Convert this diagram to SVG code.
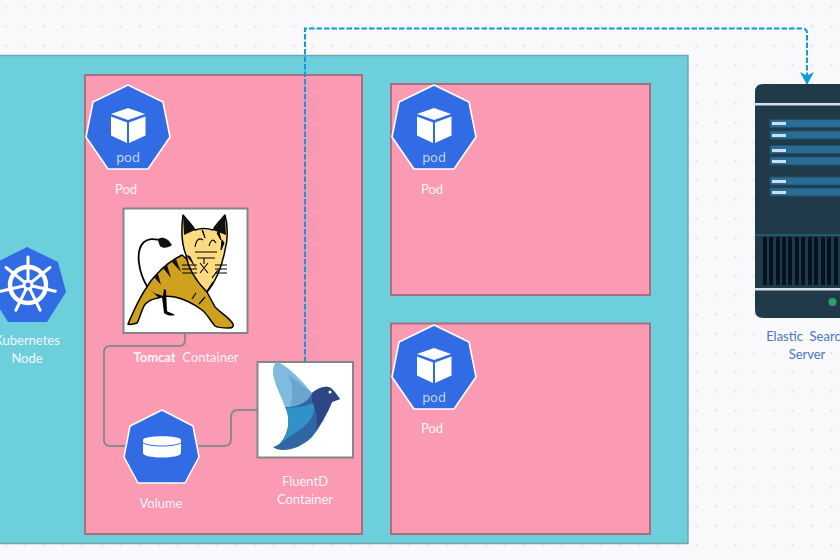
<svg xmlns="http://www.w3.org/2000/svg" width="840" height="560" viewBox="0 0 840 560">
<defs>
<pattern id="dots" x="-4" y="-2" width="19.2" height="19.2" patternUnits="userSpaceOnUse"><circle cx="9.6" cy="9.6" r="1.400" fill="#e6e8ec"/></pattern>
<marker id="arrow" viewBox="0 0 14 14" refX="13" refY="7" markerWidth="14" markerHeight="14" markerUnits="userSpaceOnUse" orient="auto"><path d="M0 0L13 7L0 14L3.500 7Z" fill="#0f9bd7"/></marker>
<polygon id="hepPod" points="128,85 163,102 170,137 148,169 108,169 86,137 93,102" fill="#326ce5" stroke="#fff" stroke-width="1.600" stroke-linejoin="round"/>
<g id="cube"><polygon points="128,108 145,114 128,120 111,114" fill="#fff"/><polygon points="111,116.500 127,122.500 127,143 111,135.500" fill="#fff"/><polygon points="129,122.500 145.500,116.500 145.500,135.500 129,143" fill="#fff"/></g>
</defs>
<style>
.t{font-family:Lato,"Liberation Sans",sans-serif;font-size:13px;fill:#fff;text-anchor:middle;white-space:pre;fill-opacity:.92}
.p{font-family:"Open Sans","Liberation Sans",sans-serif;font-size:13px;fill:#fff;fill-opacity:.75;text-anchor:middle}
.s{font-family:Lato,"Liberation Sans",sans-serif;font-size:13px;fill:#4a76c2;text-anchor:middle;white-space:pre}
.b{fill:#2a6d94;stroke:#1d4f6a;stroke-width:1}.w{fill:#cfdde6}.g{fill:#04141f}
.c{fill:none;stroke:#8a8a8a;stroke-width:2}
.box{fill:#fff;stroke:#868686;stroke-width:2}
.pk{fill:#fb9bb3;stroke:#a8707f;stroke-width:2}
</style>
<rect width="840" height="560" fill="#f9f9fc"/>
<rect width="840" height="560" fill="url(#dots)"/>
<rect id="k8s-node-area" x="-10" y="55.500" width="698" height="488" fill="#6dcfdc" stroke="#6ea6ac" stroke-width="1.500"/>
<rect id="pod-area-1" class="pk" x="85" y="75" width="277" height="459"/>
<rect id="pod-area-2" class="pk" x="391" y="84" width="259" height="211"/>
<rect id="pod-area-3" class="pk" x="391" y="323.500" width="259" height="210.500"/>

<g id="connectors">
<path class="c" d="M185 333V340Q185 346 179 346H110Q104 346 104 352V440Q104 446 110 446H126"/>
<path class="c" d="M198 446H224Q231 446 231 439V417Q231 410 238 410H258"/>
<path d="M305 362V28.500H802Q807 28.500 807 33V85" fill="none" stroke="#0f9bd7" stroke-width="2" stroke-dasharray="5.500 2"/>
<path d="M807 78V85" fill="none" stroke="none" marker-end="url(#arrow)"/>
</g>

<g id="pod-1"><use href="#hepPod"/><use href="#cube"/><text class="p" x="128" y="162">pod</text><text class="t" x="126" y="194">Pod</text></g>
<g id="pod-2"><g transform="translate(306 0)"><use href="#hepPod"/><use href="#cube"/><text class="p" x="128" y="162">pod</text></g><text class="t" x="432" y="194">Pod</text></g>
<g id="pod-3"><g transform="translate(306 240)"><use href="#hepPod"/><use href="#cube"/><text class="p" x="128" y="162">pod</text></g><text class="t" x="432" y="433">Pod</text></g>

<g id="kubernetes-node">
<polygon points="27,247 58,262 66,292 47,322 8,322 -11,292 -3,262" fill="#326ce5"/>
<g fill="none" stroke="#fff"><circle cx="28" cy="285" r="18" stroke-width="4.500"/><g stroke-width="3" stroke-linecap="round"><path d="M28 285L28 257M28 285L49.900 267.500M28 285L55.300 291.200M28 285L40.100 310.200M28 285L15.900 310.200M28 285L0.700 291.200M28 285L6.100 267.500"/></g></g>
<circle cx="28" cy="285" r="5.500" fill="#fff"/><circle cx="28" cy="285" r="2.500" fill="#326ce5"/>
<text class="t" x="27" y="345">Kubernetes</text><text class="t" x="27" y="363">Node</text>
</g>

<g id="tomcat-container">
<rect class="box" x="123.500" y="208.500" width="124" height="124.500"/>
<path d="M148 288C138 272 135 250 144 242C149 238 154 239 160 240" fill="none" stroke="#000" stroke-width="1.800"/>
<path d="M158 239C162 236 168 238 172 245C168 248 163 249 160 246C159 244 158 241 158 239Z" fill="#111"/>
<path d="M128 324C134 310 141 295 147 287C150 281 153 278 156 275C163 267 172 260 182 255L190 262L207 292L215 307C222 314 230 318 233 324C234 327 232 328 229 328C224 328 218 328 215 326C210 320 207 314 202 310C194 304 184 299 175 297C168 296 162 296 158 298C152 299 147 301 144 306C141 312 139 320 137 323C134 324 130 325 128 324Z" fill="#cfa11e" stroke="#000" stroke-width="1.500" stroke-linejoin="round"/>
<path d="M147 287L158 297L162 297L164 313C168 316 172 316 175 315C172 313 168 312 167 311L166 290L164 289L163 296L154 293Z" fill="#000"/>
<path d="M183 215C187 220 193 226 195 230C201 228 207 228 213 230C216 224 222 219 225 215C228 225 228 240 225 250C222 268 214 284 207 292C197 282 188 268 186 255C182 245 181 230 183 215Z" fill="#ffdb80" stroke="#000" stroke-width="1.500" stroke-linejoin="round"/>
<path d="M183 215L195 230L184 235ZM225 215L213 230L226 235Z" fill="#111"/>
<g fill="none" stroke="#000" stroke-width="1.100"><path d="M195 252H217M197 258H215M182 265H197M182 269H197M182 273H197M215 265H227M215 269H227M215 273H227M200 263L208 273M208 263L200 273M195 247Q197 236 203 240M209 246Q212 236 216 243M204 258V264"/></g>
<path d="M202 230L205 238L203 231ZM217 233L221 240L219 232ZM222 240L221 250L224 243Z" fill="#000" stroke="#000"/>
<path d="M186 255L197 270L190 256ZM172 262L181 272L176 259ZM163 268L171 278L167 265ZM154 277L161 285L158 274Z" fill="#111"/>
<g stroke="#000" stroke-width="1.200" fill="none"><path d="M207 291L213 282M218 270L212 278M205 297L199 304M196 293L192 299"/></g>
<text class="t" x="186" y="362"><tspan font-weight="700">Tomcat</tspan>  Container</text>
</g>

<g id="fluentd-container">
<rect class="box" x="257.500" y="362" width="95.500" height="95.500"/>
<path d="M312 393C317 389 323 386 328 387C333 388 336 394 340 399L332 402C328 412 320 428 312 437C303 446 292 450 283 450C279 450 275 449 273 447C279 446 285 440 288 427C289 420 288 412 285 407L297 405Z" fill="#2f66a3"/>
<path d="M312 393C317 389 323 386 328 387C333 388 336 394 340 399L332 402C328 412 322 422 316 429C318 420 317 410 312 403Z" fill="#2e4586"/>
<path d="M285 407C290 408 302 408 313 403C317 414 308 425 298 431C290 436 281 444 273 447C279 446 285 440 288 427C289 420 288 412 285 407Z" fill="#3192c8"/>
<path d="M277 362C285 364 300 378 312 393L308 399C302 405 293 407 285 407C281 395 272 380 273 370C273 366 275 363 277 362Z" fill="#7fbbdd"/>
<path d="M288 375C296 380 305 388 312 393L308 399C303 404 295 406 290 407C294 396 293 385 288 375Z" fill="#6aa4d0"/>
<circle cx="330" cy="392" r="1.500" fill="#fff"/>
<text class="t" x="305" y="486">FluentD</text><text class="t" x="305" y="504">Container</text>
</g>

<g id="volume">
<polygon points="162,410 193,426 199,457 185,483 138,483 124,457 130,426" fill="#326ce5" stroke="#fff" stroke-width="1.500" stroke-linejoin="round"/>
<path d="M143 440C143 435 181 435 181 440V453C181 459 143 459 143 453Z" fill="#fff"/>
<path d="M143 443C150 447 174 447 181 443" fill="none" stroke="#326ce5" stroke-width="1"/>
<text class="t" x="161" y="508">Volume</text>
</g>

<g id="elastic-search-server">
<path d="M851 84H763Q755 84 755 92V310Q755 318 763 318H851Z" fill="#203a49"/>
<rect x="755" y="103" width="90" height="2.500" fill="#d4dfe8"/>
<g class="b"><rect x="770" y="119.500" width="75" height="8"/><rect x="770" y="131" width="75" height="8"/><rect x="770" y="145.500" width="75" height="8"/><rect x="770" y="157" width="75" height="8"/><rect x="770" y="177" width="75" height="8"/><rect x="770" y="188" width="75" height="8"/></g>
<g class="w"><rect x="772" y="122" width="14" height="3"/><rect x="772" y="134" width="14" height="3"/><rect x="772" y="149" width="14" height="3"/><rect x="772" y="160" width="14" height="3"/><rect x="772" y="180" width="14" height="3"/><rect x="772" y="191" width="14" height="3"/></g>
<rect x="755" y="234" width="90" height="2" fill="#1f5a70"/>
<g class="g"><rect x="763" y="237" width="4" height="48"/><rect x="769" y="237" width="4" height="48"/><rect x="776" y="237" width="4" height="48"/><rect x="782" y="237" width="4" height="48"/><rect x="788" y="237" width="4" height="48"/><rect x="795" y="237" width="4" height="48"/><rect x="801" y="237" width="4" height="48"/><rect x="808" y="237" width="4" height="48"/><rect x="814" y="237" width="4" height="48"/><rect x="821" y="237" width="4" height="48"/><rect x="827" y="237" width="4" height="48"/><rect x="834" y="237" width="4" height="48"/></g>
<rect x="755" y="288" width="90" height="2.500" fill="#d4dfe8"/>
<circle cx="832.500" cy="302" r="4" fill="#2f9e6f"/>
<text class="s" x="807" y="341">Elastic  Search</text>
<text class="s" x="807" y="359">Server</text>
</g>
</svg>
